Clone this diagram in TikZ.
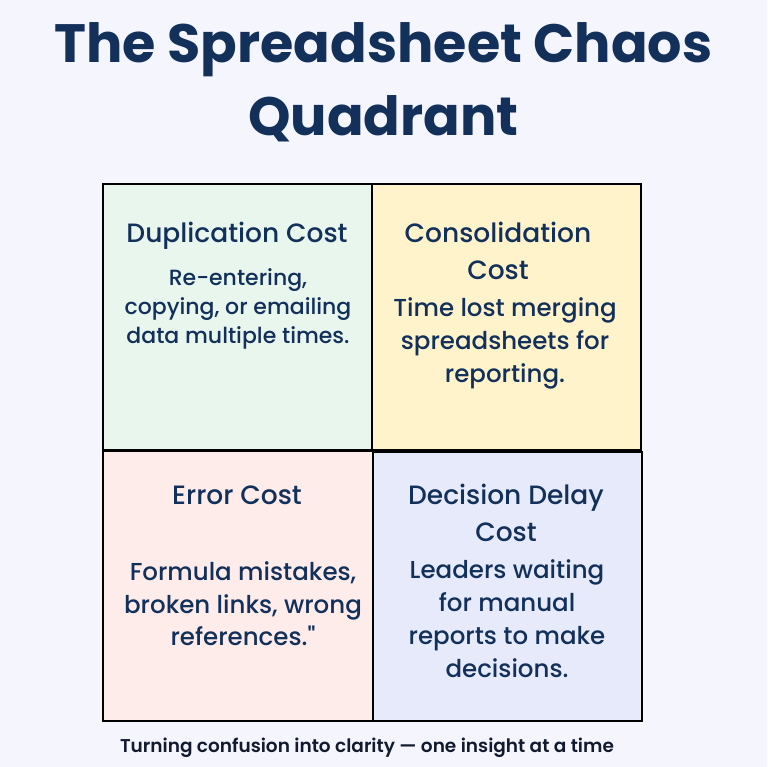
\documentclass[tikz,border=0pt]{standalone}
\usepackage{fontspec}
\setmainfont{Poppins}
\newfontfamily\pmed{Poppins Medium}
\newfontfamily\psemi{Poppins SemiBold}
\definecolor{bg}{HTML}{F4F5FD}
\definecolor{navy}{HTML}{12305A}
\definecolor{ink}{HTML}{111A2E}
\definecolor{qgreen}{HTML}{E8F6EE}
\definecolor{qyellow}{HTML}{FFF3CC}
\definecolor{qpink}{HTML}{FDECEA}
\definecolor{qblue}{HTML}{E6EAFB}
\tikzset{
  quad/.style={draw=black, line width=2.6pt},
  qtitle/.style={text=navy, align=center, inner sep=0pt, font=\pmed\fontsize{26.5}{37}\selectfont},
  qbody/.style={text=navy, align=center, inner sep=0pt, font=\pmed\fontsize{22}{29}\selectfont},
}
\begin{document}
\begin{tikzpicture}[x=1pt,y=-1pt]
\fill[bg] (0,0) rectangle (767,767);
\useasboundingbox (0,0) rectangle (767,767);
\node[text=navy, align=center, font=\bfseries\fontsize{54}{73}\selectfont, inner sep=0pt] (title) at (383.5,82) {The Spreadsheet Chaos\\Quadrant};
\path[quad, fill=qgreen] (103,184) rectangle (372,450) coordinate (tl);
\path[quad, fill=qyellow] (372,184) rectangle (641,450) coordinate (tr);
\path[quad, fill=qpink] (103,451) rectangle (373,721) coordinate (bl);
\path[quad, fill=qblue] (373,452) rectangle (642,721) coordinate (br);
\node[qtitle] (t1) at (237,236) {Duplication Cost};
\node[qbody] (b1) at (238,309) {Re-entering,\\copying, or emailing\\data multiple times.};
\node[qtitle] (t2) at (498,251) {Consolidation\\Cost};
\node[qbody, font=\pmed\fontsize{24.5}{33}\selectfont] (b2) at (505,343) {Time lost merging\\spreadsheets for\\reporting.};
\node[qtitle] (t3) at (237,495) {Error Cost};
\node[qbody, font=\pmed\fontsize{24.5}{32.5}\selectfont] (b3) at (243,604) {Formula mistakes,\\broken links, wrong\\references."};
\node[qtitle] (t4) at (506,513) {Decision Delay\\Cost};
\node[qbody, font=\pmed\fontsize{24.5}{33}\selectfont] (b4) at (507,619) {Leaders waiting\\for manual\\reports to make\\decisions.};
\node[text=ink, font=\psemi\fontsize{18.5}{20}\selectfont, inner sep=0pt] (foot) at (367,748) {Turning confusion into clarity — one insight at a time};
\end{tikzpicture}
\end{document}
